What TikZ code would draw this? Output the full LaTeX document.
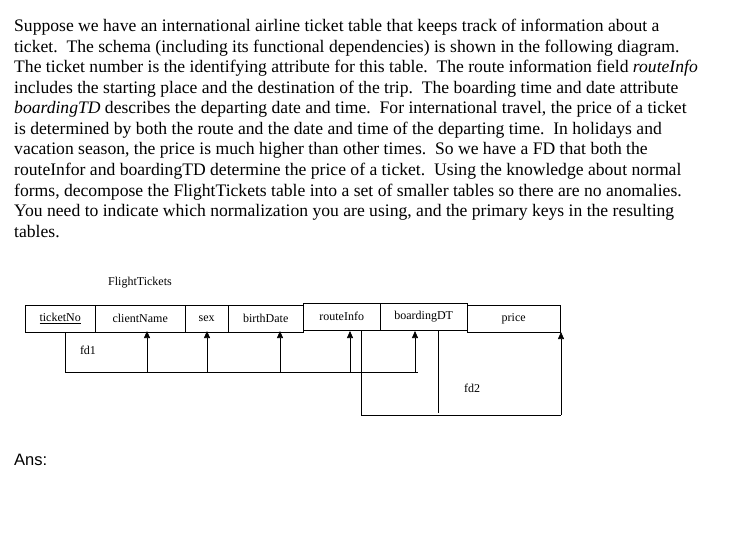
\documentclass[tikz,border=0pt]{standalone}
\usepackage{fontspec}
\setmainfont{Liberation Serif}
\newfontfamily\ansfont{Liberation Sans}
\usetikzlibrary{arrows.meta}
\begin{document}
\begin{tikzpicture}[x=1pt,y=-1pt,
  para/.style={anchor=base west,inner sep=0pt,font=\fontsize{17.6}{20}\selectfont},
  cell/.style={draw,anchor=north west,minimum height=27pt,inner sep=0pt,font=\fontsize{12}{14}\selectfont},
  lbl/.style={inner sep=0pt,font=\fontsize{12}{14}\selectfont},
  ln/.style={draw,line width=0.6pt},
  arr/.style={ln,-{Triangle[length=7pt,width=6pt]}}]
\useasboundingbox (0,0) rectangle (751,556);
\node[para] (l1) at (14,32) {Suppose we have an international airline ticket table that keeps track of information about a};
\node[para] (l2) at (14,52.5) {ticket.\ \ The schema (including its functional dependencies) is shown in the following diagram.};
\node[para] (l3) at (14,73) {The ticket number is the identifying attribute for this table.\ \ The route information field \textit{routeInfo}};
\node[para] (l4) at (14,93.5) {includes the starting place and the destination of the trip.\ \ The boarding time and date attribute};
\node[para] (l5) at (14,114) {\textit{boardingTD} describes the departing date and time.\ \ For international travel, the price of a ticket};
\node[para] (l6) at (14,134.5) {is determined by both the route and the date and time of the departing time.\ \ In holidays and};
\node[para] (l7) at (14,155) {vacation season, the price is much higher than other times.\ \ So we have a FD that both the};
\node[para] (l8) at (14,175.5) {routeInfor and boardingTD determine the price of a ticket.\ \ Using the knowledge about normal};
\node[para] (l9) at (14,196) {forms, decompose the FlightTickets table into a set of smaller tables so there are no anomalies.};
\node[para] (l10) at (14,216.5) {You need to indicate which normalization you are using, and the primary keys in the resulting};
\node[para] (l11) at (14,237) {tables.};

\node[lbl] (ft) at (140,283) {FlightTickets};
\node[cell,minimum width=70pt] (c1) at (25,305) {\underline{ticketNo}};
\node[cell,minimum width=90pt] (c2) at (95,305) {clientName};
\node[cell,minimum width=43pt] (c3) at (185,305) {sex};
\node[cell,minimum width=75pt] (c4) at (228,305) {birthDate};
\node[cell,minimum width=77pt] (c5) at (303,303) {routeInfo};
\node[cell,minimum width=87pt] (c6) at (380,303) {boardingDT};
\node[cell,minimum width=93pt] (c7) at (467,305) {price};

\coordinate (a1) at (65,372);
\coordinate (a2) at (418,372);
\draw[ln] (65,332) -- (a1) -- (a2);
\foreach \x in {147,207,280,350,415}{\draw[arr] (\x,372) -- (\x,331);}
\node[lbl] (fd1) at (88,350) {fd1};

\coordinate (b1) at (361,415);
\coordinate (b2) at (561,415);
\draw[ln] (361,330) -- (b1) -- (b2);
\draw[arr] (b2) -- (561,332);
\draw[ln] (438,330) -- (438,413);
\node[lbl] (fd2) at (472,388) {fd2};

\node[anchor=west,inner sep=0pt,font=\ansfont\fontsize{16.5}{18}\selectfont] (ans) at (14,460) {Ans:};
\end{tikzpicture}
\end{document}
